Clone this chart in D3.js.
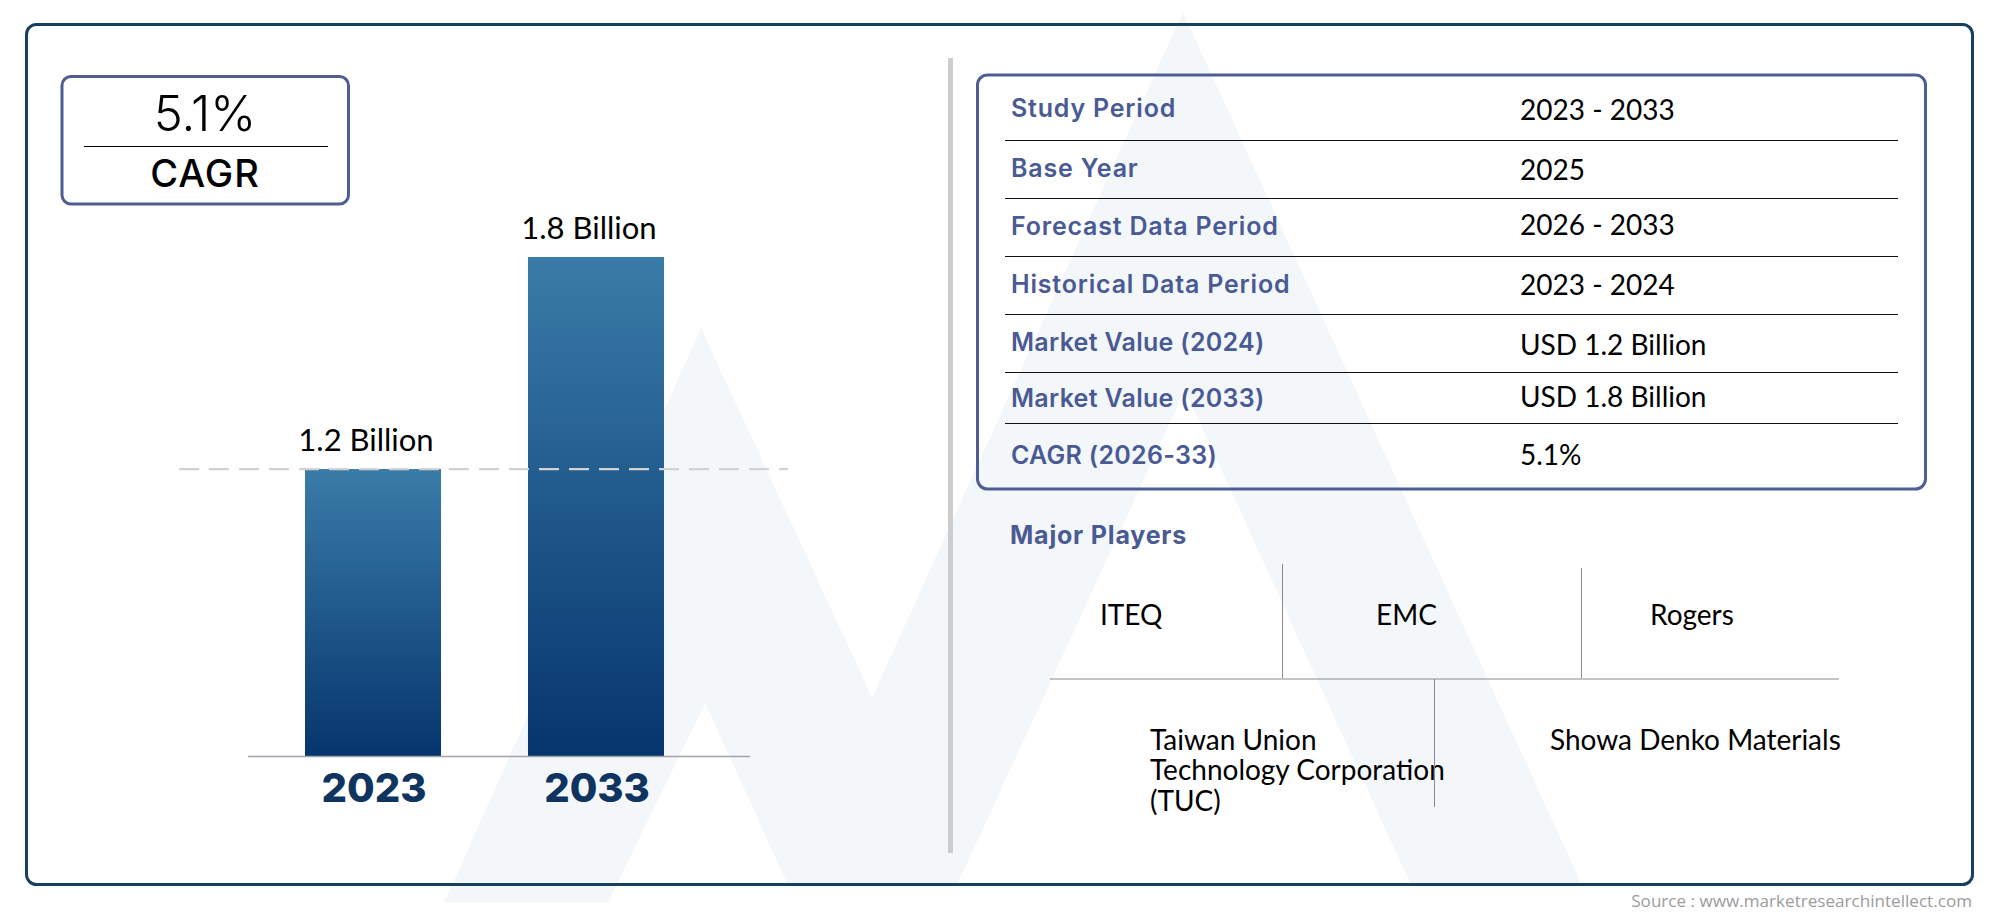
<!DOCTYPE html>
<html>
<head>
<meta charset="utf-8">
<script src="https://cdn.jsdelivr.net/npm/d3@7"></script>
<style>
  html, body { margin: 0; padding: 0; background: #fff; }
  svg { display: block; }
</style>
</head>
<body>
<svg id="chart" width="2000" height="917"></svg>
<script>
// chart data
const categories = ["2023", "2033"];
const barValues = [1.2, 1.8];
const barLabels = ["1.2 Billion", "1.8 Billion"];
const cagrValue = "5.1%";
const cagrLabel = "CAGR";
const infoLabels = ["Study Period", "Base Year", "Forecast Data Period", "Historical Data Period",
  "Market Value (2024)", "Market Value (2033)", "CAGR (2026-33)"];
const infoValues = ["2023 - 2033", "2025", "2026 - 2033", "2023 - 2024",
  "USD 1.2 Billion", "USD 1.8 Billion", "5.1%"];
const playersTitle = "Major Players";
const players = ["ITEQ", "EMC", "Rogers", "Showa Denko Materials"];
const tucLines = ["Taiwan Union", "Technology Corporation", "(TUC)"];
const sourceText = "Source : www.marketresearchintellect.com";

// fonts
const bodyFont = "Lato, sans-serif";
const headFont = "Inter, sans-serif";

const navy = "#173f5f";
const slate = "#4f5e92";
const labelBlue = "#4a5a94";

const svg = d3.select("#chart");

// gradient for the bars
const grad = svg.append("defs").append("linearGradient")
  .attr("id", "barGrad").attr("x1", 0).attr("y1", 0).attr("x2", 0).attr("y2", 1);
grad.append("stop").attr("offset", "0%").attr("stop-color", "#3a7ca8");
grad.append("stop").attr("offset", "100%").attr("stop-color", "#06356e");

// pale logo behind everything
const logoPaths = [
  "M444,903 L701,328 L958,883 L787,883 L705,703 L608,903 Z",
  "M1183,12 L1581,883 L1410,883 L1185,390 L958,883 L788,883 Z"
];
svg.selectAll("path.logo").data(logoPaths).enter().append("path")
  .attr("class", "logo")
  .attr("d", d => d)
  .attr("fill", "#f4f7fa");

// outer frame
svg.append("rect")
  .attr("x", 26.5).attr("y", 24.5).attr("width", 1946).attr("height", 860).attr("rx", 10)
  .attr("fill", "none").attr("stroke", navy).attr("stroke-width", 3);

// divider
svg.append("rect")
  .attr("x", 948).attr("y", 58).attr("width", 5).attr("height", 795)
  .attr("fill", "#cdcdcd");

// CAGR box
svg.append("rect")
  .attr("x", 62).attr("y", 76.5).attr("width", 286.5).attr("height", 127.5).attr("rx", 9)
  .attr("fill", "#fff").attr("stroke", slate).attr("stroke-width", 3);
svg.append("line")
  .attr("x1", 84).attr("x2", 328).attr("y1", 146.5).attr("y2", 146.5)
  .attr("stroke", "#000").attr("stroke-width", 1);
svg.append("text").attr("x", 205).attr("y", 131)
  .attr("text-anchor", "middle").attr("font-family", headFont).attr("font-size", 49).attr("font-weight", 300)
  .attr("fill", "#000").text(cagrValue);
svg.append("text").attr("x", 205).attr("y", 187)
  .attr("text-anchor", "middle").attr("font-family", headFont).attr("font-size", 38).attr("font-weight", 500)
  .attr("letter-spacing", 1).attr("fill", "#000").text(cagrLabel);

// bars
const x = d3.scaleBand().domain(categories).range([305, 664]).paddingInner(0.39);
const y = d3.scaleLinear().domain([0.388, 1.8]).range([756, 257]);

svg.selectAll("rect.bar").data(barValues).enter().append("rect")
  .attr("class", "bar")
  .attr("x", (d, i) => x(categories[i]))
  .attr("y", d => y(d))
  .attr("width", x.bandwidth())
  .attr("height", d => y.range()[0] - y(d))
  .attr("fill", "url(#barGrad)");

svg.selectAll("text.barLabel").data(barLabels).enter().append("text")
  .attr("class", "barLabel")
  .attr("x", (d, i) => x(categories[i]) + x.bandwidth() / 2 - 7)
  .attr("y", (d, i) => y(barValues[i]) - 18)
  .attr("text-anchor", "middle")
  .attr("font-family", bodyFont).attr("font-size", 31)
  .attr("fill", "#000")
  .text(d => d);

// dashed reference line at the first bar's height
svg.append("line")
  .attr("x1", 179).attr("x2", 788)
  .attr("y1", y(barValues[0])).attr("y2", y(barValues[0]))
  .attr("stroke", "#d2d2d2").attr("stroke-width", 2.2).attr("stroke-dasharray", "20 10");

// category axis
const axis = svg.append("g")
  .attr("transform", "translate(0,756)")
  .call(d3.axisBottom(x).tickSize(0).tickPadding(18));
axis.select(".domain").remove();
axis.selectAll("text")
  .attr("dx", 1)
  .attr("font-family", headFont).attr("font-size", 40).attr("font-weight", 800)
  .attr("fill", "#0f3460");
svg.append("line")
  .attr("x1", 248).attr("x2", 750).attr("y1", 756.5).attr("y2", 756.5)
  .attr("stroke", "#a0a4aa").attr("stroke-width", 1.5);

// info table
svg.append("rect")
  .attr("x", 977.5).attr("y", 75).attr("width", 948).attr("height", 414).attr("rx", 10)
  .attr("fill", "none").attr("stroke", slate).attr("stroke-width", 3);

const rowRules = [140, 198, 256, 314, 372, 423];
const labelBase = [117, 177, 235, 293, 351, 407, 464];
const valueBase = [120, 180, 235, 295, 355, 407, 465];

svg.selectAll("line.rowRule").data(rowRules).enter().append("line")
  .attr("class", "rowRule")
  .attr("x1", 1005).attr("x2", 1898)
  .attr("y1", d => d + 0.5).attr("y2", d => d + 0.5)
  .attr("stroke", "#111").attr("stroke-width", 1);

// Inter digits run wider than the original face, so rows with numbers get less spacing
svg.selectAll("text.infoLabel").data(infoLabels).enter().append("text")
  .attr("class", "infoLabel")
  .attr("x", 1011).attr("y", (d, i) => labelBase[i])
  .attr("font-family", headFont).attr("font-size", 25).attr("font-weight", 600)
  .attr("letter-spacing", d => /\d/.test(d) ? 0.3 : 0.8)
  .attr("fill", labelBlue).text(d => d);

svg.selectAll("text.infoValue").data(infoValues).enter().append("text")
  .attr("class", "infoValue")
  .attr("x", 1520).attr("y", (d, i) => valueBase[i])
  .attr("font-family", bodyFont).attr("font-size", 28)
  .attr("fill", "#000").text(d => d);

// major players
svg.append("text").attr("x", 1010).attr("y", 544)
  .attr("font-family", headFont).attr("font-size", 25).attr("font-weight", 700)
  .attr("letter-spacing", 0.8)
  .attr("fill", labelBlue).text(playersTitle);

const playerX = [1100, 1376, 1650, 1550];
const playerY = [625, 625, 625, 750];
svg.selectAll("text.player").data(players).enter().append("text")
  .attr("class", "player")
  .attr("x", (d, i) => playerX[i]).attr("y", (d, i) => playerY[i])
  .attr("font-family", bodyFont).attr("font-size", 28)
  .attr("fill", "#000").text(d => d);

const tucBase = [750, 780, 811];
svg.selectAll("text.tuc").data(tucLines).enter().append("text")
  .attr("class", "tuc")
  .attr("x", 1150).attr("y", (d, i) => tucBase[i])
  .attr("font-family", bodyFont).attr("font-size", 28)
  .attr("fill", "#000").text(d => d);

const gridLines = [
  [1282.5, 564, 1282.5, 678],
  [1581.5, 568, 1581.5, 678],
  [1050, 679, 1839, 679],
  [1434.5, 679, 1434.5, 807]
];
svg.selectAll("line.playerGrid").data(gridLines).enter().append("line")
  .attr("class", "playerGrid")
  .attr("x1", d => d[0]).attr("y1", d => d[1]).attr("x2", d => d[2]).attr("y2", d => d[3])
  .attr("stroke", "#8a8a8a").attr("stroke-width", 1);

// source note
svg.append("text").attr("x", 1972).attr("y", 907)
  .attr("text-anchor", "end").attr("font-family", "'Open Sans', sans-serif").attr("font-size", 17.1)
  .attr("fill", "#9c9c9c").text(sourceText);
</script>
</body>
</html>
